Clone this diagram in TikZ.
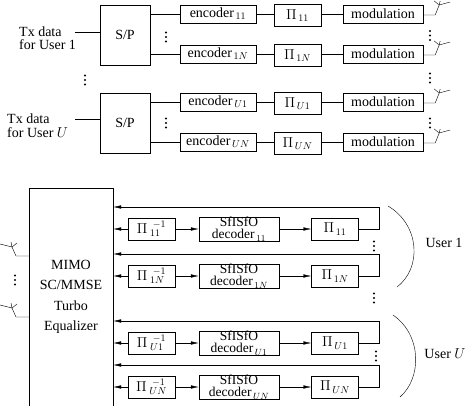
\documentclass[tikz,border=0pt]{standalone}
\usepackage{fontspec}
\setmainfont{Liberation Serif}
\usetikzlibrary{calc, positioning, arrows.meta}

\begin{document}
\begin{tikzpicture}[x = 1pt, y = -1pt, font = \fontsize{14}{16}\selectfont,
  blk/.style = {draw, inner sep = 1pt, minimum height = 18pt},
  pib/.style = {draw, inner sep = 1pt, minimum width = 47pt, minimum height = 22pt},
  dec/.style = {draw, inner sep = 0pt, minimum width = 80pt, minimum height = 24pt, align = center, font = \fontsize{13.5}{12.5}\selectfont},
  lbl/.style = {inner sep = 0pt, align = left, font = \fontsize{14}{12.5}\selectfont},
  arr/.style = {-{Latex[length = 8pt, width = 3.5pt]}}]
\useasboundingbox (0,0) rectangle (474,405);

% transmitter
\node[lbl, anchor = west] (tx1) at (19,38) {Tx data\\for User 1};
\node[lbl, anchor = west] (tx2) at (7,125.5) {Tx data\\[1.5pt]for User $U$};
\node[draw, minimum width = 50pt, minimum height = 60pt] (sp1) at (125,35) {S/P};
\node[draw, minimum width = 50pt, minimum height = 60pt] (sp2) at (125,123) {S/P};
\coordinate (in1) at (75,32);
\coordinate (in2) at (75,119);
\draw (in1) -- (in1 -| sp1.west);
\draw (in2) -- (in2 -| sp2.west);
\foreach \r/\y/\s/\k in {a/14/sp1/11, b/54/sp1/1N, c/102/sp2/U1, d/142/sp2/UN}{
  \node[blk, minimum width = 76pt] (enc\r) at (218,\y) {encoder$_{\,\k}$};
  \node[pib] (pi\r) at (297.5,\y+1.5) {$\Pi_{\,\k}$};
  \node[blk, minimum width = 80pt] (mod\r) at (383,\y) {modulation};
  \draw (\s.east |- enc\r) -- (enc\r);
  \draw (enc\r) -- (enc\r -| pi\r.west);
  \draw (pi\r.east |- mod\r) -- (mod\r);
  \coordinate (ant\r) at ($(mod\r.east)+(12,1)$);
  \draw (mod\r.east |- ant\r) -- (ant\r) -- ++(4,-10) coordinate (tip\r) -- ++(-5,-4);
  \draw (tip\r) -- ++(11,-3);
  \draw (tip\r) -- ++(1,-4);
}
\foreach \x/\y in {166/37, 166/123, 430/35.5, 430/78, 430/123, 85/80, 15/280, 374/246, 374/298, 376/356}{
  \fill (\x,\y-4.5) circle (1.1) (\x,\y) circle (1.1) (\x,\y+4.5) circle (1.1);
}

% receiver
\node[draw, minimum width = 84pt, minimum height = 218pt, align = center, font = \fontsize{14}{20.5}\selectfont] (mimo) at (71,297) {MIMO\\SC/MMSE\\Turbo\\Equalizer};
\foreach \r/\y in {a/256, b/317}{
  \coordinate (lant\r) at (16,\y);
  \draw (mimo.west |- lant\r) -- (lant\r) -- ++(-4,-9) coordinate (ltip\r) -- ++(-12,-3);
  \draw (ltip\r) -- ++(5,-4);
  \draw (ltip\r) -- ++(-1,-5);
}
\foreach \r/\y/\k in {a/229/11, b/276/1N, c/343/U1, d/387/UN}{
  \node[pib] (inv\r) at (151.5,\y) {$\Pi^{\;\;-1}_{\;\k}$};
  \node[dec] (dec\r) at (239,\y) {SfISfO\\decoder$_{\,\k}$};
  \node[pib] (pb\r) at (335,\y) {$\Pi_{\,\k}$};
  \coordinate (fb\r) at (379,\y-22);
  \draw[arr] (inv\r) -- (inv\r -| mimo.east);
  \draw[arr] (inv\r) -- (dec\r);
  \draw[arr] (dec\r) -- (pb\r);
  \draw[arr] (pb\r) -- (pb\r -| fb\r) -- (fb\r) -- (fb\r -| mimo.east);
}
\draw (388,206) .. controls (420,225) and (422,268) .. (397,287);
\draw (393,315) .. controls (422,335) and (422,378) .. (400,397);
\node (usr1) at (444,243) {User 1};
\node (usrU) at (445,354) {User $U$};
\end{tikzpicture}
\end{document}
